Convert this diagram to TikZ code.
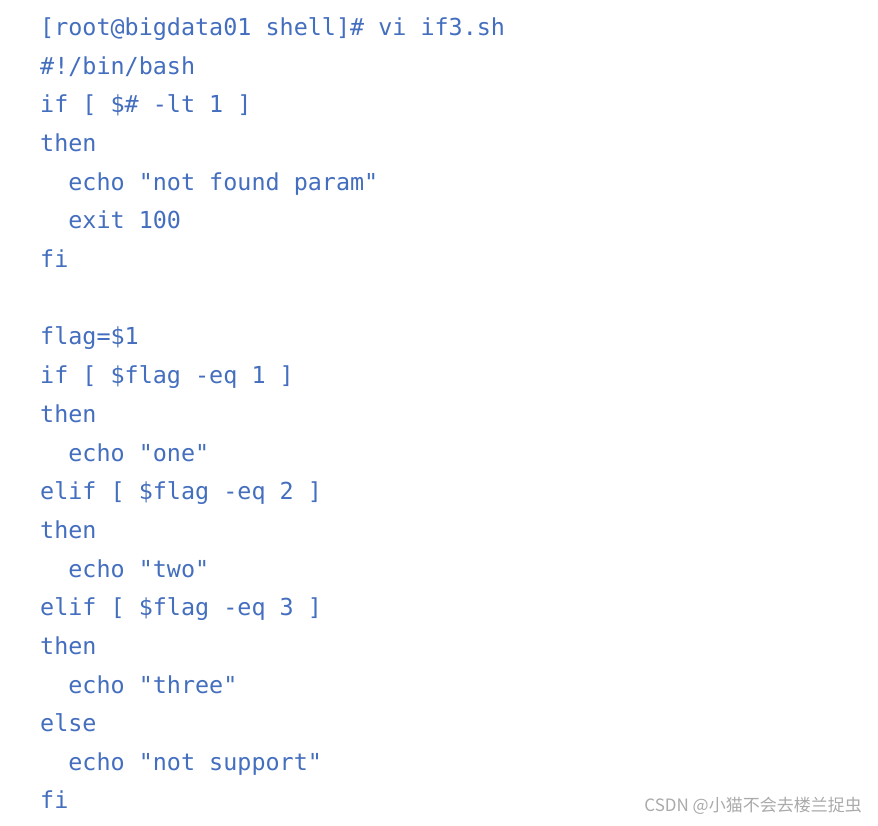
\documentclass[tikz,border=0pt]{standalone}
\usepackage{fontspec}
\newfontfamily\codefont{DejaVu Sans Mono}
\newfontfamily\cjk{Noto Sans CJK SC}
\definecolor{codeblue}{RGB}{68,110,190}
\definecolor{wm}{RGB}{170,170,170}
\begin{document}
\begin{tikzpicture}[x=1pt,y=-1pt,
  code/.style={anchor=base west,inner sep=0pt,text=codeblue,font=\codefont\fontsize{23.4}{28}\selectfont}]
\useasboundingbox[fill=white] (0,0) rectangle (878,825);
\def\L#1#2#3{\node[code] (#1) at (40,#2+8) {#3};}
\L{l1}{27}{[root@bigdata01 shell]\# vi if3.sh}
\L{l2}{66}{\#!/bin/bash}
\L{l3}{104}{if [ \$\# -lt 1 ]}
\L{l4}{143}{then}
\L{l5}{182}{\ \ echo "not found param"}
\L{l6}{220}{\ \ exit 100}
\L{l7}{259}{fi}
\L{l8}{336}{flag=\$1}
\L{l9}{375}{if [ \$flag -eq 1 ]}
\L{l10}{414}{then}
\L{l11}{453}{\ \ echo "one"}
\L{l12}{491}{elif [ \$flag -eq 2 ]}
\L{l13}{530}{then}
\L{l14}{569}{\ \ echo "two"}
\L{l15}{607}{elif [ \$flag -eq 3 ]}
\L{l16}{646}{then}
\L{l17}{685}{\ \ echo "three"}
\L{l18}{723}{else}
\L{l19}{762}{\ \ echo "not support"}
\L{l20}{800}{fi}
\node[anchor=east,inner sep=0pt,text=wm,font=\cjk\fontsize{17}{20}\selectfont] (wm) at (862,806) {CSDN @小猫不会去楼兰捉虫};
\end{tikzpicture}
\end{document}
